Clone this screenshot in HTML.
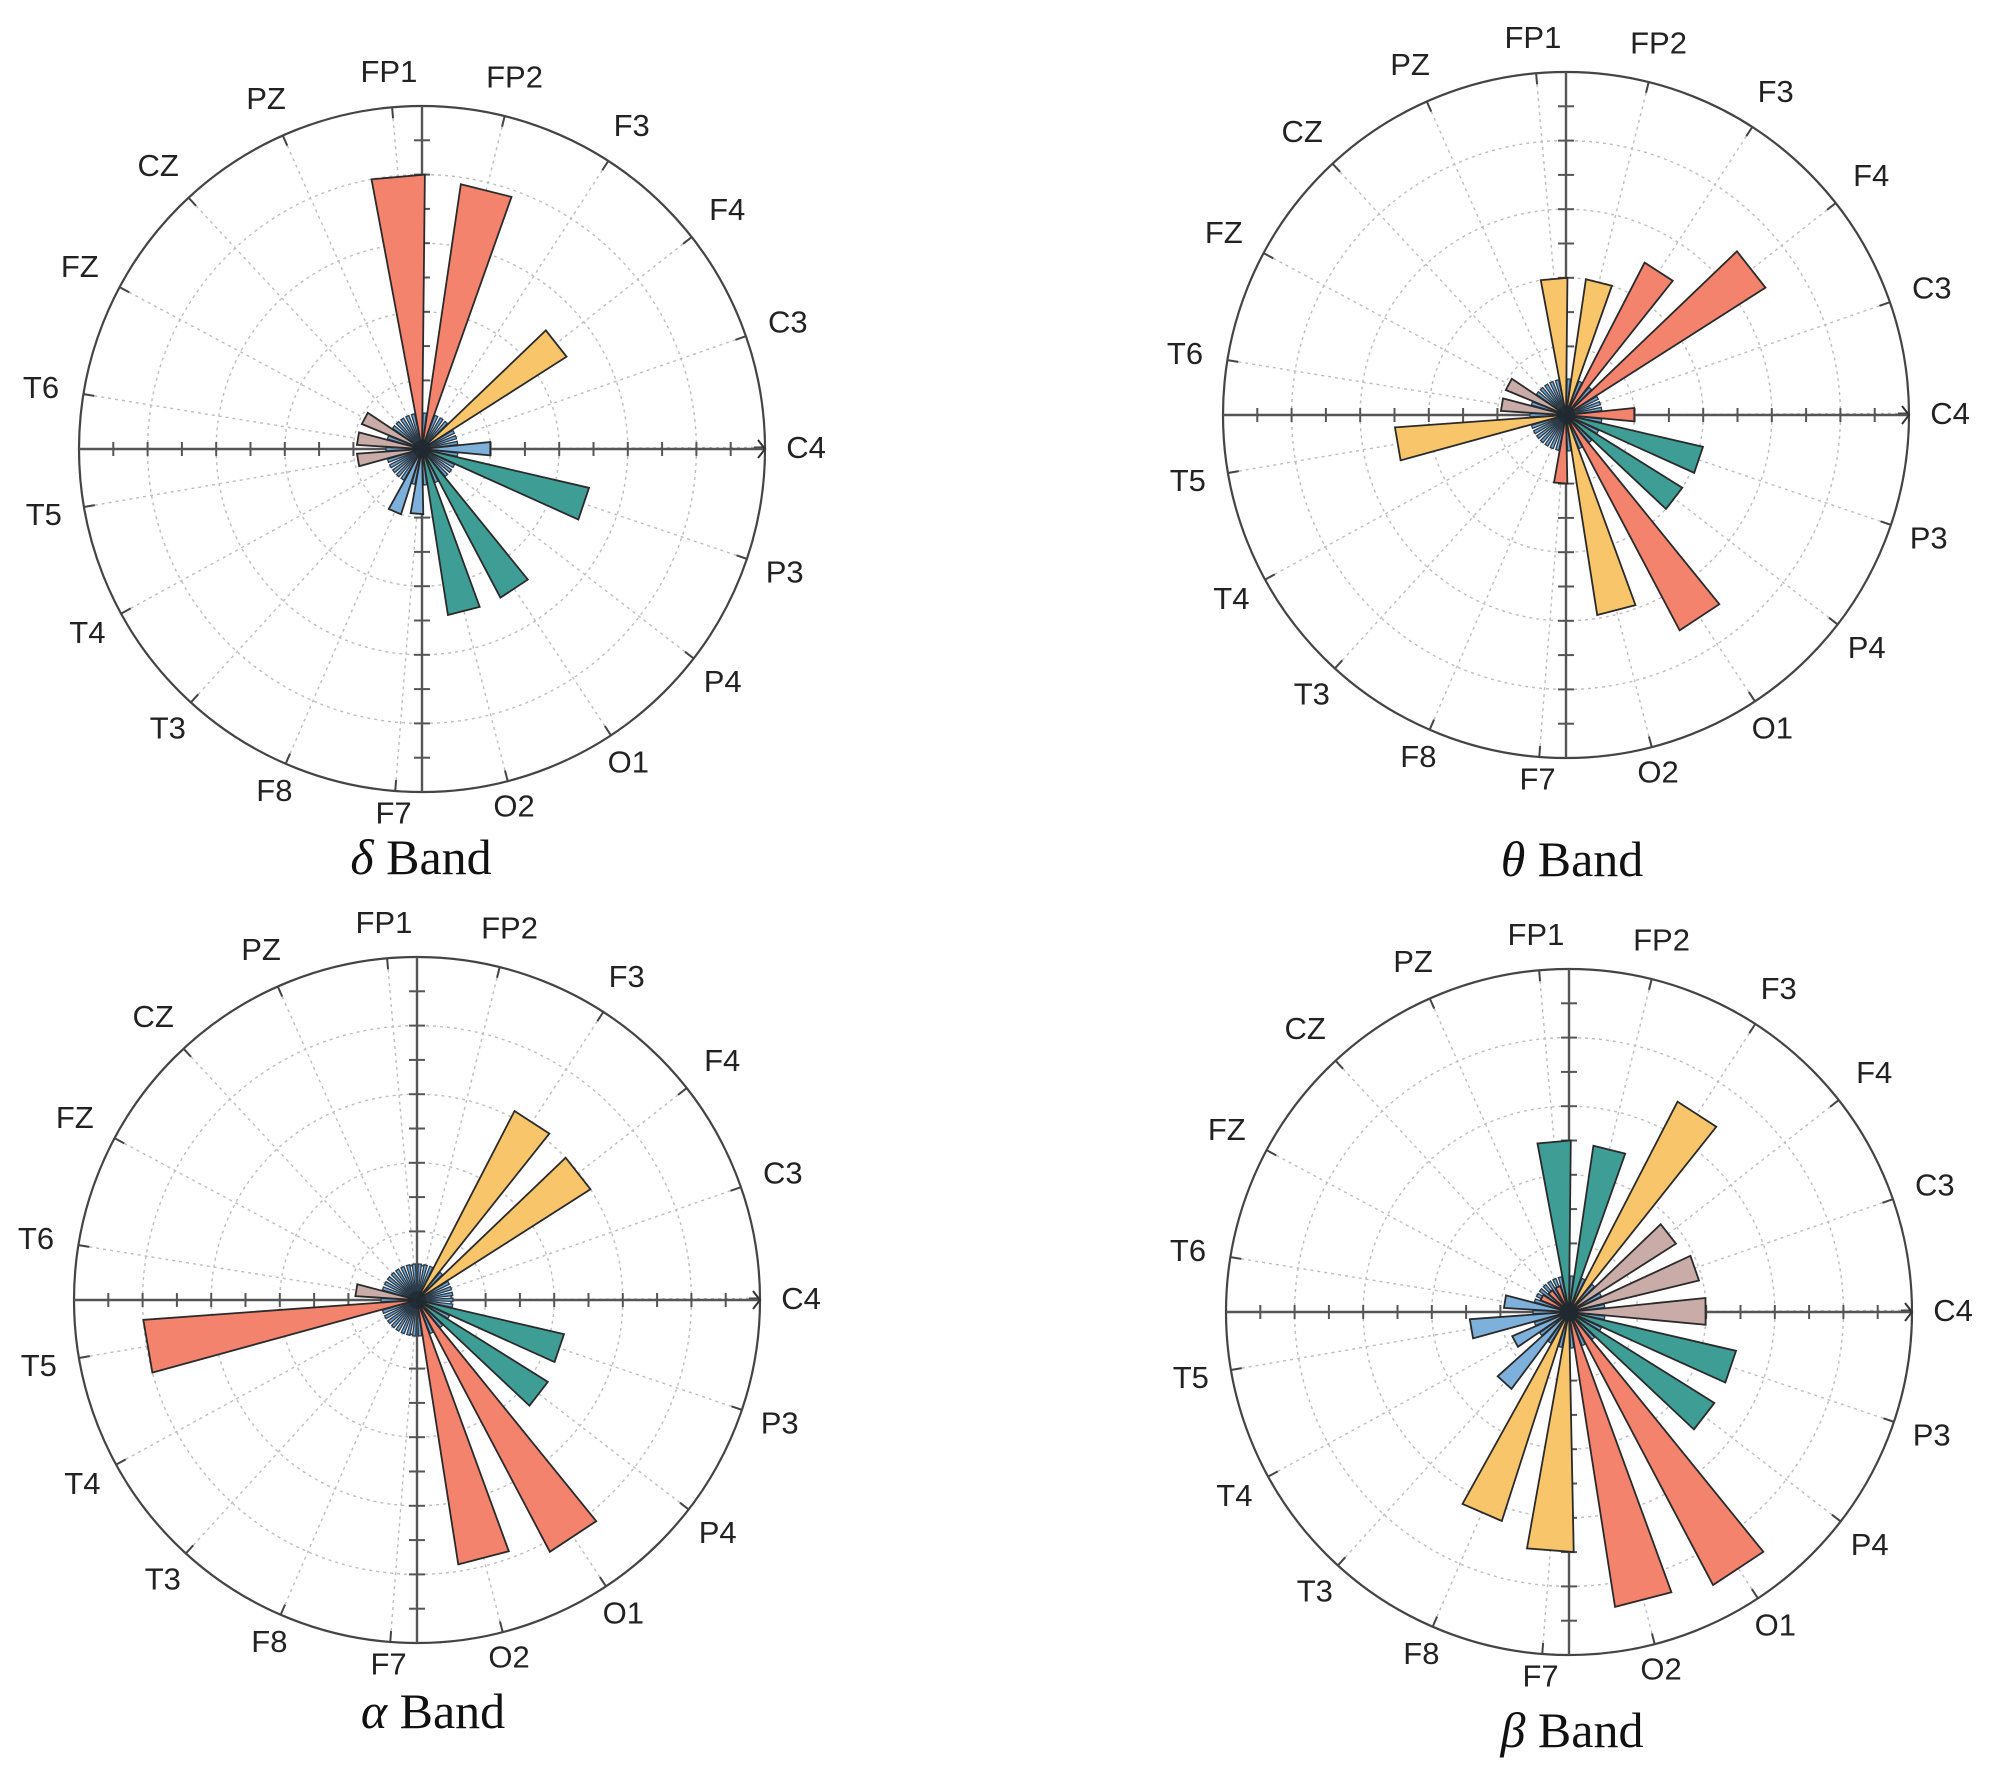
<!DOCTYPE html>
<html><head><meta charset="utf-8"><style>
html,body{margin:0;padding:0;background:#fff;}
svg{display:block;}
.lb{font-family:"Liberation Sans",sans-serif;font-size:31px;fill:#222;}
.tt{font-family:"Liberation Serif",serif;font-size:50px;fill:#111;}
</style></head><body>
<svg id="s" width="2008" height="1781" viewBox="0 0 2008 1781" xmlns="http://www.w3.org/2000/svg">
<g id="grid"></g>
<g id="c0"><text class="lb">FP1</text><text class="lb">FP2</text><text class="lb">F3</text><text class="lb">F4</text><text class="lb">C3</text><text class="lb">C4</text><text class="lb">P3</text><text class="lb">P4</text><text class="lb">O1</text><text class="lb">O2</text><text class="lb">F7</text><text class="lb">F8</text><text class="lb">T3</text><text class="lb">T4</text><text class="lb">T5</text><text class="lb">T6</text><text class="lb">FZ</text><text class="lb">CZ</text><text class="lb">PZ</text></g>
<g id="c1"><text class="lb">FP1</text><text class="lb">FP2</text><text class="lb">F3</text><text class="lb">F4</text><text class="lb">C3</text><text class="lb">C4</text><text class="lb">P3</text><text class="lb">P4</text><text class="lb">O1</text><text class="lb">O2</text><text class="lb">F7</text><text class="lb">F8</text><text class="lb">T3</text><text class="lb">T4</text><text class="lb">T5</text><text class="lb">T6</text><text class="lb">FZ</text><text class="lb">CZ</text><text class="lb">PZ</text></g>
<g id="c2"><text class="lb">FP1</text><text class="lb">FP2</text><text class="lb">F3</text><text class="lb">F4</text><text class="lb">C3</text><text class="lb">C4</text><text class="lb">P3</text><text class="lb">P4</text><text class="lb">O1</text><text class="lb">O2</text><text class="lb">F7</text><text class="lb">F8</text><text class="lb">T3</text><text class="lb">T4</text><text class="lb">T5</text><text class="lb">T6</text><text class="lb">FZ</text><text class="lb">CZ</text><text class="lb">PZ</text></g>
<g id="c3"><text class="lb">FP1</text><text class="lb">FP2</text><text class="lb">F3</text><text class="lb">F4</text><text class="lb">C3</text><text class="lb">C4</text><text class="lb">P3</text><text class="lb">P4</text><text class="lb">O1</text><text class="lb">O2</text><text class="lb">F7</text><text class="lb">F8</text><text class="lb">T3</text><text class="lb">T4</text><text class="lb">T5</text><text class="lb">T6</text><text class="lb">FZ</text><text class="lb">CZ</text><text class="lb">PZ</text></g>
<text class="tt" x="421" y="874" text-anchor="middle"><tspan font-style="italic">δ</tspan> Band</text>
<text class="tt" x="1572" y="876" text-anchor="middle"><tspan font-style="italic">θ</tspan> Band</text>
<text class="tt" x="433" y="1728" text-anchor="middle"><tspan font-style="italic">α</tspan> Band</text>
<text class="tt" x="1572" y="1747" text-anchor="middle"><tspan font-style="italic">β</tspan> Band</text>
</svg>
<script>
(function(){
var NS="http://www.w3.org/2000/svg";
var R="#F4836E",Y="#F9C56B",T="#3E9E96",P="#C9ABA8",B="#7DB1DC";
var charts=[
 {cx:422,cy:449,bars:[[0,R,.80],[1,R,.78],[3,Y,.50],[5,B,.20],[6,T,.50],[8,T,.49],[9,T,.49],[10,B,.19],[11,B,.20],[14,P,.19],[15,P,.19],[16,P,.19]]},
 {cx:1566,cy:415,bars:[[0,Y,.40],[1,Y,.40],[2,R,.50],[3,R,.69],[5,R,.20],[6,T,.41],[7,T,.40],[8,R,.71],[9,Y,.59],[10,R,.20],[14,Y,.50],[15,P,.19],[16,P,.19]]},
 {cx:417,cy:1300,bars:[[2,Y,.62],[3,Y,.60],[6,T,.44],[7,T,.45],[8,R,.83],[9,R,.78],[14,R,.80],[15,P,.18]]},
 {cx:1569,cy:1312,bars:[[0,T,.50],[1,T,.49],[2,Y,.69],[3,P,.37],[4,P,.39],[5,P,.40],[6,T,.50],[7,T,.50],[8,R,.90],[9,R,.87],[10,Y,.70],[11,Y,.64],[12,B,.28],[13,B,.18],[14,B,.29],[15,B,.19],[16,R,.09],[17,R,.08],[18,R,.08]]}
];
var r=343, step=360/19;
function el(p,n,a){var e=document.createElementNS(NS,n);for(var k in a)e.setAttribute(k,a[k]);p.appendChild(e);return e;}
function pt(cx,cy,th,L){var t=th*Math.PI/180;return [cx+L*Math.sin(t),cy-L*Math.cos(t)];}
var g=document.getElementById("grid");
charts.forEach(function(c,ci){
 var cx=c.cx,cy=c.cy;
 [0.2,0.4,0.6,0.8].forEach(function(f){el(g,"circle",{cx:cx,cy:cy,r:f*r,fill:"none",stroke:"#bdbdbd","stroke-width":1.4,"stroke-dasharray":"3 4"});});
 for(var k=0;k<19;k++){var a=k*step-5;var p=pt(cx,cy,a,r);
  el(g,"line",{x1:cx,y1:cy,x2:p[0],y2:p[1],stroke:"#bdbdbd","stroke-width":1.4,"stroke-dasharray":"3 4"});
  var q=pt(cx,cy,a,r-11);el(g,"line",{x1:q[0],y1:q[1],x2:p[0],y2:p[1],stroke:"#444","stroke-width":2});}
 el(g,"circle",{cx:cx,cy:cy,r:r,fill:"none",stroke:"#444","stroke-width":2.2});
 el(g,"line",{x1:cx-r,y1:cy,x2:cx+r,y2:cy,stroke:"#555","stroke-width":2.4});
 el(g,"line",{x1:cx,y1:cy-r,x2:cx,y2:cy+r,stroke:"#555","stroke-width":2.4});
 for(var i=-9;i<=9;i++){if(i==0)continue;var d=i*r/10;
  el(g,"line",{x1:cx+d,y1:cy-7,x2:cx+d,y2:cy+7,stroke:"#555","stroke-width":2});
  el(g,"line",{x1:cx-8,y1:cy+d,x2:cx+8,y2:cy+d,stroke:"#555","stroke-width":2});}
 el(g,"polyline",{points:(cx+r-7)+","+(cy-9)+" "+(cx+r)+","+cy+" "+(cx+r-7)+","+(cy+9),fill:"none",stroke:"#333","stroke-width":2});
 for(var j=0;j<38;j++){var a=j*step/2-5;var p1=pt(cx,cy,a-2.6,r*0.105),p2=pt(cx,cy,a+2.6,r*0.105);
  el(g,"polygon",{points:cx+","+cy+" "+p1.join(",")+" "+p2.join(","),fill:"#6FA6D2",stroke:"#2d3b48","stroke-width":1.3});}
 c.bars.forEach(function(b){var a=b[0]*step-5,L=b[2]*r;var p1=pt(cx,cy,a-5.6,L),p2=pt(cx,cy,a+5.6,L);
  el(g,"polygon",{points:cx+","+cy+" "+p1.join(",")+" "+p2.join(","),fill:b[1],stroke:"#2a2a2a","stroke-width":1.8,"stroke-linejoin":"miter"});});
 el(g,"circle",{cx:cx,cy:cy,r:9,fill:"#1e2a33",opacity:0.75});
 var ts=document.getElementById("c"+ci).getElementsByTagName("text");
 for(var k=0;k<ts.length;k++){var a=k*step-5,t=a*Math.PI/180;var w=ts[k].textContent.length>2?30:21;
  var cs=Math.cos(t);
  var dd=r+20+w*Math.abs(Math.sin(t))+(cs>0?14:0)*Math.abs(cs);var p=pt(cx,cy,a,dd);
  ts[k].setAttribute("x",p[0]);ts[k].setAttribute("y",p[1]+11);ts[k].setAttribute("text-anchor","middle");}
});
})();
</script>
</body></html>
